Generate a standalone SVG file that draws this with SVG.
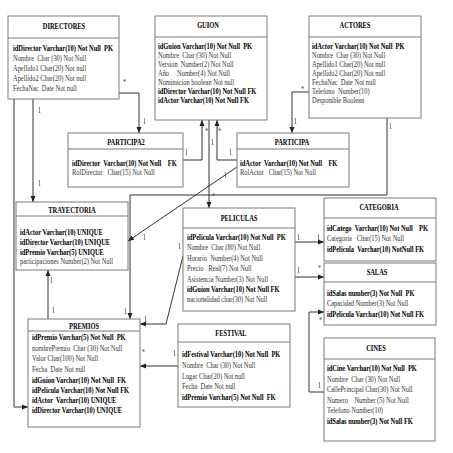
<svg xmlns="http://www.w3.org/2000/svg" width="453" height="453" viewBox="0 0 453 453" xml:space="preserve">
<style>
text{font-family:"Liberation Serif","Times New Roman",serif;font-size:8.8px;fill:#333;white-space:pre}
.b{font-weight:bold;fill:#000}
.h{font-weight:bold;fill:#000;text-anchor:middle}
.box{fill:#fff;stroke:#7a7a7a;stroke-width:1}
.sep{stroke:#7a7a7a;stroke-width:1}
.c{fill:none;stroke:#333;stroke-width:1}
.l{font-size:8px;fill:#444}
</style>
<defs>
<marker id="ar" viewBox="0 0 6 6" refX="6" refY="3" markerWidth="6" markerHeight="6" markerUnits="userSpaceOnUse" orient="auto">
<path d="M0,0.5 L6,3 L0,5.5 Z" fill="#222"/>
</marker>
<filter id="gs" x="0" y="0" width="453" height="453" filterUnits="userSpaceOnUse"><feOffset dx="0" dy="0"/></filter>
</defs>
<rect width="453" height="453" fill="#fff"/>

<g id="connectors">
<polyline class="c" points="119,93 139,93 139,133" marker-end="url(#ar)"/>
<polyline class="c" points="33,99 33,202" marker-end="url(#ar)"/>
<polyline class="c" points="14,99 14,407 28,407" marker-end="url(#ar)"/>
<polyline class="c" points="183,160 202,160 202,120" marker-end="url(#ar)"/>
<polyline class="c" points="237,160 217,160 217,120" marker-end="url(#ar)"/>
<polyline class="c" points="209,120 209,208" marker-end="url(#ar)"/>
<polyline class="c" points="309,92 292,92 292,133" marker-end="url(#ar)"/>
<polyline class="c" points="387,118 387,195 130,195 130,319" marker-end="url(#ar)"/>
<polyline class="c" points="237,167 128,241" marker-end="url(#ar)"/>
<polyline class="c" points="48,319 48,270" marker-end="url(#ar)"/>
<polyline class="c" points="183,256 166,324 140,324" marker-end="url(#ar)"/>
<polyline class="c" points="178,366 140,366" marker-end="url(#ar)"/>
<polyline class="c" points="295,242 324,242" marker-end="url(#ar)"/>
<polyline class="c" points="295,277 324,277" marker-end="url(#ar)"/>
<polyline class="c" points="324,392 309,392 309,312 324,312" marker-end="url(#ar)"/>
<g filter="url(#gs)">
<g transform="scale(.8 1)">
<text class="l" x="153.75" y="85">*</text>
<text class="l" x="178.75" y="124">1</text>
<text class="l" x="47.5" y="113">1</text>
<text class="l" x="47.5" y="186">1</text>
<text class="l" x="231.25" y="155">1</text>
<text class="l" x="256.25" y="134">*</text>
<text class="l" x="286.25" y="155">1</text>
<text class="l" x="272.5" y="134">*</text>
<text class="l" x="263.75" y="145">1</text>
<text class="l" x="265" y="199">*</text>
<text class="l" x="376.25" y="92">*</text>
<text class="l" x="367.5" y="124">1</text>
<text class="l" x="486.25" y="129">1</text>
<text class="l" x="155" y="314">1</text>
<text class="l" x="280" y="178">1</text>
<text class="l" x="178.75" y="240">1</text>
<text class="l" x="62.5" y="283">1</text>
<text class="l" x="65" y="313">1</text>
<text class="l" x="222.5" y="249">1</text>
<text class="l" x="180" y="322">1</text>
<text class="l" x="177.5" y="355">*</text>
<text class="l" x="216.25" y="356">1</text>
<text class="l" x="371.25" y="240">1</text>
<text class="l" x="396.25" y="240">1</text>
<text class="l" x="371.25" y="273">1</text>
<text class="l" x="397.5" y="271">*</text>
<text class="l" x="398.75" y="323">*</text>
<text class="l" x="397.5" y="388">1</text>
</g>
</g>
</g>

<g id="directores">
<rect class="box" x="8" y="16" width="111" height="83"/>
<line class="sep" x1="8" y1="38" x2="119" y2="38"/>
<g transform="translate(13 0) scale(.73 1)">
<text class="h" x="69.86" y="29">DIRECTORES</text>
<text class="b" x="0" y="51">idDirector Varchar(10) Not Null  PK</text>
<text x="0" y="61">Nombre  Char (30) Not Null</text>
<text x="0" y="71">Apellido1 Char(20) Not null</text>
<text x="0" y="81">Apellido2 Char(20) Not null</text>
<text x="0" y="91">FechaNac  Date Not null</text>
</g>
</g>

<g id="guion">
<rect class="box" x="155" y="16" width="112" height="104"/>
<line class="sep" x1="155" y1="37" x2="267" y2="37"/>
<g transform="translate(158 0) scale(.73 1)">
<text class="h" x="68.49" y="28">GUION</text>
<text class="b" x="0" y="49">idGuion Varchar(10) Not Null  PK</text>
<text x="0" y="58">Nombre  Char (30) Not Null</text>
<text x="0" y="67">Version  Number(2) Not Null</text>
<text x="0" y="76">Año     Number(4) Not Null</text>
<text x="0" y="85">Nominacion boolean Not null</text>
<text class="b" x="0" y="94">idDirector Varchar(10) Not Null FK</text>
<text class="b" x="0" y="103">idActor Varchar(10) Not Null FK</text>
</g>
</g>

<g id="actores">
<rect class="box" x="309" y="16" width="112" height="102"/>
<line class="sep" x1="309" y1="37" x2="421" y2="37"/>
<g transform="translate(312 0) scale(.73 1)">
<text class="h" x="58.9" y="28">ACTORES</text>
<text class="b" x="0" y="49">idActor Varchar(10) Not Null  PK</text>
<text x="0" y="58">Nombre  Char (30) Not Null</text>
<text x="0" y="67">Apellido1 Char(20) Not null</text>
<text x="0" y="76">Apellido2 Char(20) Not null</text>
<text x="0" y="85">FechaNac  Date Not null</text>
<text x="0" y="94">Telefono  Number(10)</text>
<text x="0" y="103">Desponible Boolean</text>
</g>
</g>

<g id="participa2">
<rect class="box" x="68" y="133" width="115" height="54"/>
<line class="sep" x1="68" y1="149" x2="183" y2="149"/>
<g transform="translate(72 0) scale(.73 1)">
<text class="h" x="73.97" y="145">PARTICIPA2</text>
<text class="b" x="0" y="166">idDirector  Varchar(10) Not Null    FK</text>
<text x="0" y="175">RolDirector   Char(15) Not Null</text>
</g>
</g>

<g id="participa">
<rect class="box" x="237" y="133" width="112" height="54"/>
<line class="sep" x1="237" y1="149" x2="349" y2="149"/>
<g transform="translate(240 0) scale(.73 1)">
<text class="h" x="71.23" y="145">PARTICIPA</text>
<text class="b" x="0" y="166">idActor  Varchar(10) Not Null    FK</text>
<text x="0" y="175">RolActor   Char(15) Not Null</text>
</g>
</g>

<g id="trayectoria">
<rect class="box" x="16" y="202" width="112" height="68"/>
<line class="sep" x1="16" y1="216" x2="128" y2="216"/>
<g transform="translate(20 0) scale(.73 1)">
<text class="h" x="71.23" y="213">TRAYECTORIA</text>
<text class="b" x="0" y="235">idActor Varchar(10) UNIQUE</text>
<text class="b" x="0" y="245">idDirector Varchar(10) UNIQUE</text>
<text class="b" x="0" y="255">idPremio Varchar(5) UNIQUE</text>
<text x="0" y="264">participaciones Number(2) Not Null</text>
</g>
</g>

<g id="peliculas">
<rect class="box" x="183" y="208" width="112" height="103"/>
<line class="sep" x1="183" y1="228" x2="295" y2="228"/>
<g transform="translate(187 0) scale(.73 1)">
<text class="h" x="71.23" y="221">PELICULAS</text>
<text class="b" x="0" y="240">idPelicula Varchar(10) Not Null  PK</text>
<text x="0" y="250.5">Nombre  Char (80) Not Null</text>
<text x="0" y="261">Horario  Number(4) Not Null</text>
<text x="0" y="271.5">Precio   Real(7) Not Null</text>
<text x="0" y="282">Asistencia Number(3) Not Null</text>
<text class="b" x="0" y="292">idGuion Varchar(10) Not Null FK</text>
<text x="0" y="302">nacionalidad char(30) Not Null</text>
</g>
</g>

<g id="categoria">
<rect class="box" x="324" y="198" width="112" height="63"/>
<line class="sep" x1="324" y1="218" x2="436" y2="218"/>
<g transform="translate(327 0) scale(.73 1)">
<text class="h" x="71.23" y="210">CATEGORIA</text>
<text class="b" x="0" y="231">idCatego  Varchar(10) Not Null    PK</text>
<text x="0" y="241">Categoria   Char(15) Not Null</text>
<text class="b" x="0" y="252">idPelicula  Varchar(10) NotNull FK</text>
</g>
</g>

<g id="salas">
<rect class="box" x="324" y="263" width="112" height="62"/>
<line class="sep" x1="324" y1="282" x2="436" y2="282"/>
<g transform="translate(327 0) scale(.73 1)">
<text class="h" x="68.49" y="275">SALAS</text>
<text class="b" x="0" y="296">idSalas number(3) Not Null  PK</text>
<text x="0" y="306">Capacidad Number(3) Not Null</text>
<text class="b" x="0" y="317">idPelicula Varchar(10) Not Null FK</text>
</g>
</g>

<g id="cines">
<rect class="box" x="324" y="338" width="111" height="103"/>
<line class="sep" x1="324" y1="359" x2="435" y2="359"/>
<g transform="translate(327 0) scale(.73 1)">
<text class="h" x="67.12" y="351">CINES</text>
<text class="b" x="0" y="371">idCine Varchar(10) Not Null  PK</text>
<text x="0" y="382">Nombre  Char (30) Not Null</text>
<text x="0" y="392">CallePrincipal Char(30) Not Null</text>
<text x="0" y="403">Numero    Number (5) Not Null</text>
<text x="0" y="413">Telefono Number(10)</text>
<text class="b" x="0" y="424">idSalas number(3) Not Null FK</text>
</g>
</g>

<g id="premios">
<rect class="box" x="28" y="319" width="112" height="108"/>
<line class="sep" x1="28" y1="331" x2="140" y2="331"/>
<g transform="translate(32 0) scale(.73 1)">
<text class="h" x="71.23" y="329">PREMIOS</text>
<text class="b" x="0" y="340">idPremio Varchar(5) Not Null  PK</text>
<text x="0" y="351">nombrePremio  Char (30) Not Null</text>
<text x="0" y="361">Valor Char(100) Not Null</text>
<text x="0" y="372">Fecha  Date Not null</text>
<text class="b" x="0" y="383">idGuion Varchar(10) Not Null  FK</text>
<text class="b" x="0" y="393">idPelicula Varchar(10) Not Null FK</text>
<text class="b" x="0" y="403">idActor  Varchar(10) UNIQUE</text>
<text class="b" x="0" y="413">idDirector Varchar(10) UNIQUE</text>
</g>
</g>

<g id="festival">
<rect class="box" x="178" y="324" width="112" height="83"/>
<line class="sep" x1="178" y1="342" x2="290" y2="342"/>
<g transform="translate(182 0) scale(.73 1)">
<text class="h" x="67.12" y="336">FESTIVAL</text>
<text class="b" x="0" y="357">idFestival Varchar(10) Not Null  PK</text>
<text x="0" y="368">Nombre  Char (30) Not Null</text>
<text x="0" y="379">Lugar Char(20) Not null</text>
<text x="0" y="389">Fecha  Date Not null</text>
<text class="b" x="0" y="400">idPremio Varchar(5) Not Null  FK</text>
</g>
</g>
</svg>
